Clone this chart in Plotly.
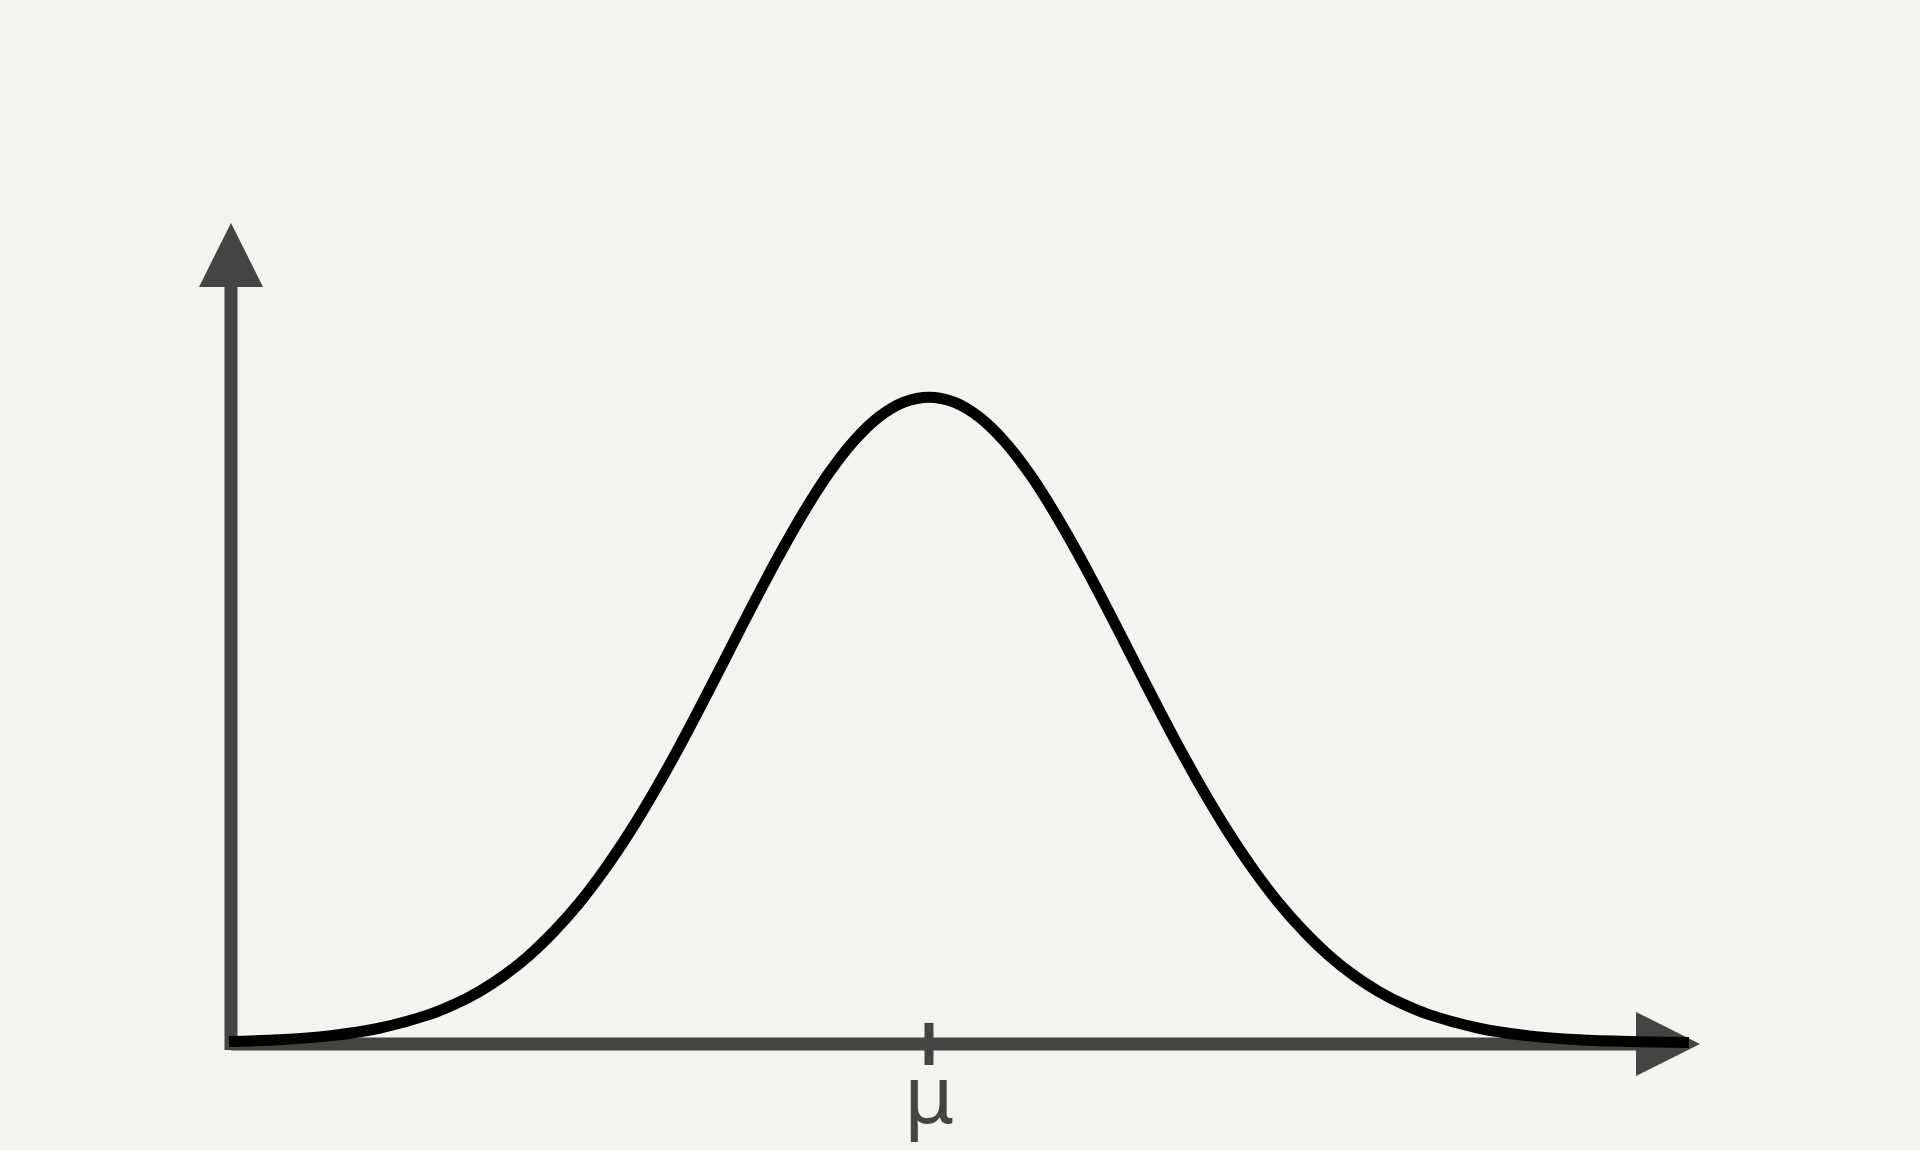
import plotly.graph_objects as go

# curve: x in units of sigma around mu, y as density height
x_vals = [-3.5, -3.25, -3.0, -2.75, -2.5, -2.375, -2.25, -2.125, -2.0, -1.875, -1.75, -1.625,
          -1.5, -1.375, -1.25, -1.125, -1.0, -0.875, -0.75, -0.625, -0.5, -0.375, -0.25, -0.125,
          0.0, 0.125, 0.25, 0.375, 0.5, 0.625, 0.75, 0.875, 1.0, 1.125, 1.25, 1.375,
          1.5, 1.625, 1.75, 1.875, 2.0, 2.125, 2.25, 2.375, 2.5, 2.75, 3.0, 3.25, 3.5, 3.8]
y_vals = [0.0009, 0.0020, 0.0044, 0.0091, 0.0175, 0.0237, 0.0317, 0.0417, 0.0540, 0.0689, 0.0863, 0.1066,
          0.1295, 0.1550, 0.1826, 0.2119, 0.2420, 0.2721, 0.3011, 0.3281, 0.3521, 0.3719, 0.3867, 0.3958,
          0.3989, 0.3958, 0.3867, 0.3719, 0.3521, 0.3281, 0.3011, 0.2721, 0.2420, 0.2119, 0.1826, 0.1550,
          0.1295, 0.1066, 0.0863, 0.0689, 0.0540, 0.0417, 0.0317, 0.0237, 0.0175, 0.0091, 0.0044, 0.0020, 0.0009, 0.0003]
tick_vals = [0.0]
tick_text = ["μ"]

AXIS = "#444444"
BG = "#f3f3ef"

fig = go.Figure()
fig.add_trace(go.Scatter(x=x_vals, y=y_vals, mode="lines",
                         line=dict(color="#000000", width=11, shape="spline", smoothing=0.9),
                         hoverinfo="skip", showlegend=False))

x0, x1 = -3.49, 3.56     # horizontal axis extent
ytop = 0.47              # vertical axis top (arrow base)
shapes = [
    dict(type="line", x0=x0, x1=x1, y0=-0.0006, y1=-0.0006, line=dict(color=AXIS, width=13), layer="below"),
    dict(type="line", x0=x0, x1=x0, y0=-0.0044, y1=ytop, line=dict(color=AXIS, width=13), layer="below"),
    # arrow heads
    dict(type="path", path="M 3.535 0.0192 L 3.855 -0.0006 L 3.535 -0.0204 Z",
         fillcolor=AXIS, line=dict(width=0), layer="below"),
    dict(type="path", path="M -3.65 0.467 L -3.49 0.5065 L -3.33 0.467 Z",
         fillcolor=AXIS, line=dict(width=0), layer="below"),
]
for t in tick_vals:
    shapes.append(dict(type="line", x0=t, x1=t, y0=-0.0136, y1=0.0124, line=dict(color=AXIS, width=9)))

annotations = [dict(x=t, y=0.005, text=s, showarrow=False, xanchor="center", yanchor="top",
                    font=dict(family="Noto Sans", size=80, color=AXIS))
               for t, s in zip(tick_vals, tick_text)]

fig.update_layout(
    width=1920, height=1150,
    margin=dict(l=0, r=0, t=0, b=0),
    paper_bgcolor=BG, plot_bgcolor=BG,
    xaxis=dict(range=[-4.645, 4.955], visible=False, fixedrange=True),
    yaxis=dict(range=[-0.0661, 0.6442], visible=False, fixedrange=True),
    shapes=shapes, annotations=annotations,
)
fig.write_html("out.html", config={"displayModeBar": False},
               post_script="document.body.style.margin='0';document.body.style.background='#f3f3ef';")
